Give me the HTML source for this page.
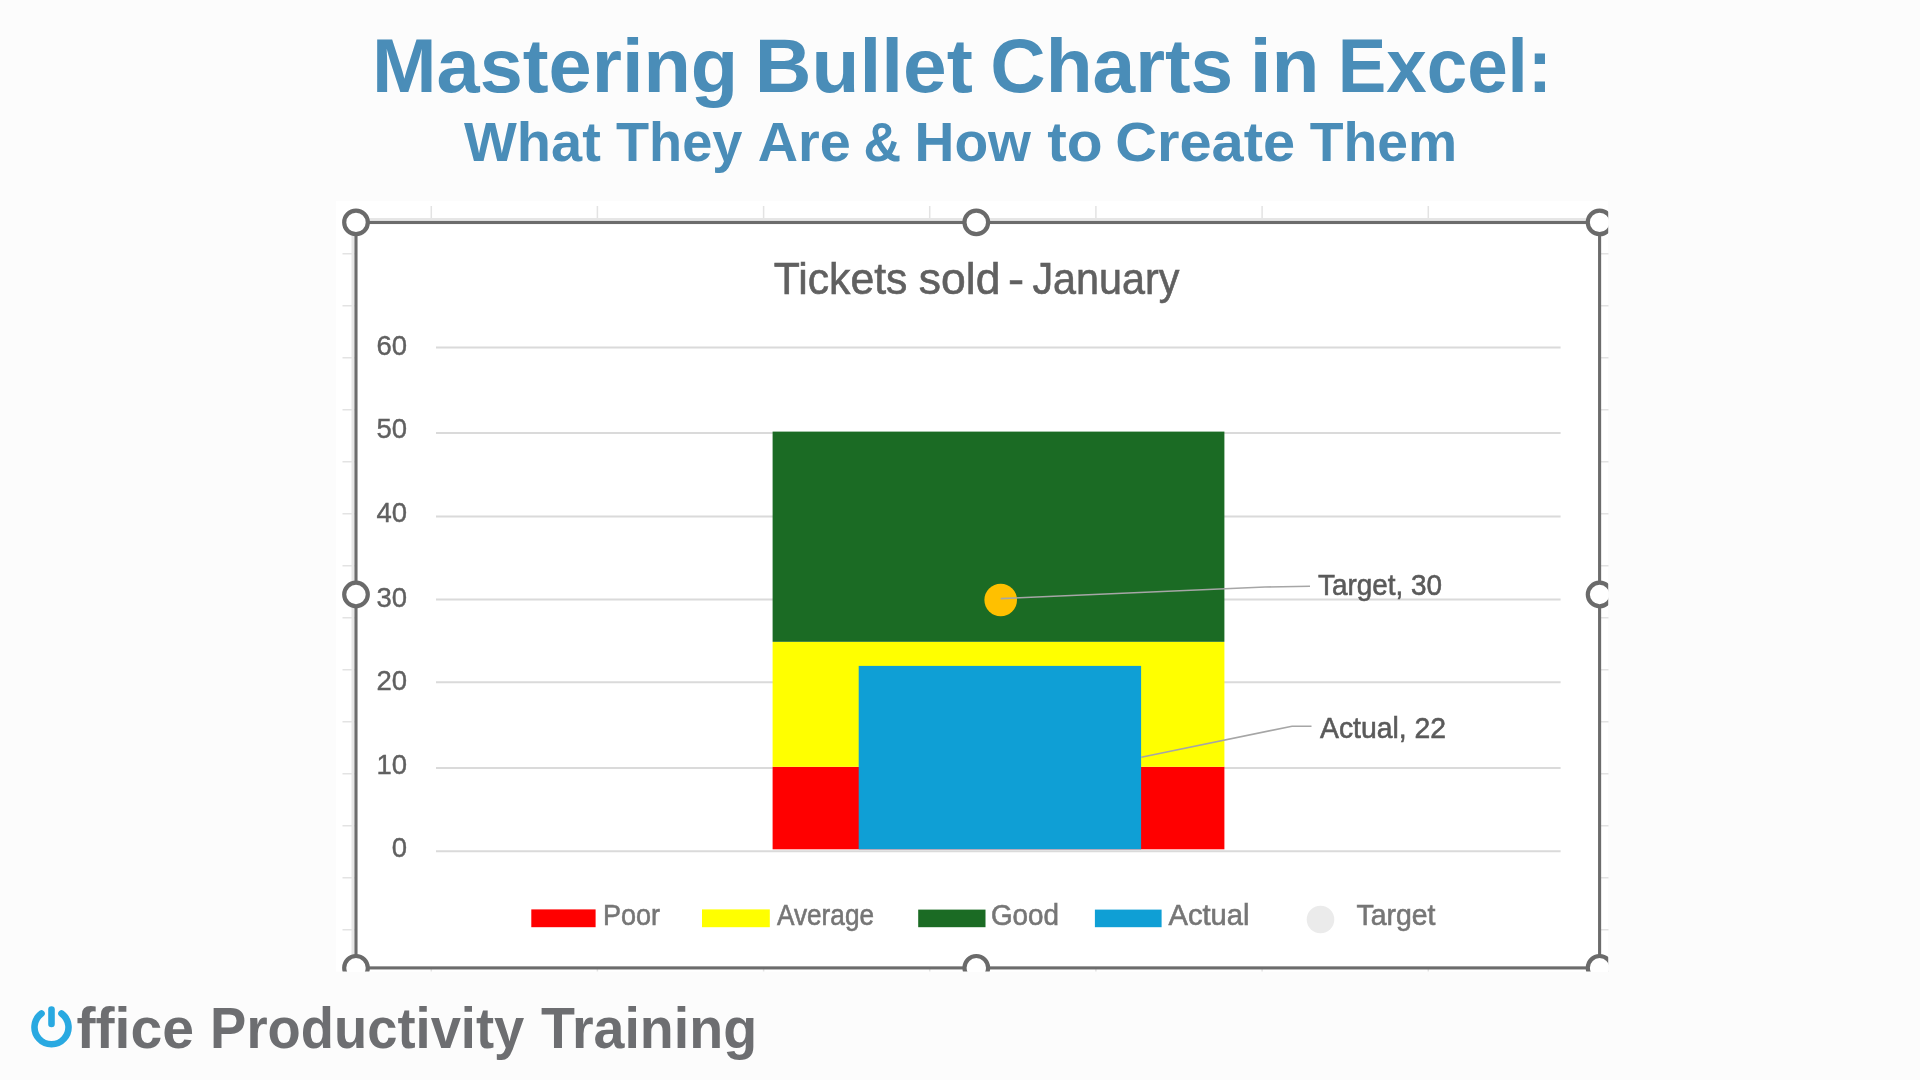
<!DOCTYPE html>
<html>
<head>
<meta charset="utf-8">
<title>Mastering Bullet Charts in Excel</title>
<style>
html,body{margin:0;padding:0;background:#fcfcfc;}
body{width:1920px;height:1080px;overflow:hidden;}
svg{display:block;filter:blur(0.45px);}
text{font-family:"Liberation Sans",Arial,sans-serif;}
</style>
</head>
<body>
<svg width="1920" height="1080" viewBox="0 0 1920 1080">
  <rect x="0" y="0" width="1920" height="1080" fill="#fcfcfc"/>

  <!-- Titles -->
  <g font-weight="bold" font-size="76.5" fill="#4a8db8">
    <text x="371.93" y="91.7" textLength="366.26" lengthAdjust="spacingAndGlyphs">Mastering</text>
    <text x="754.87" y="91.7" textLength="217.91" lengthAdjust="spacingAndGlyphs">Bullet</text>
    <text x="990.29" y="91.7" textLength="242.86" lengthAdjust="spacingAndGlyphs">Charts</text>
    <text x="1249.67" y="91.7" textLength="69.79" lengthAdjust="spacingAndGlyphs">in</text>
    <text x="1337.75" y="91.7" textLength="214.31" lengthAdjust="spacingAndGlyphs">Excel:</text>
  </g>
  <g font-weight="bold" font-size="56.4" fill="#4a8db8">
    <text x="464.0" y="160.8" textLength="136.78" lengthAdjust="spacingAndGlyphs">What</text>
    <text x="616.0" y="160.8" textLength="126.39" lengthAdjust="spacingAndGlyphs">They</text>
    <text x="757.81" y="160.8" textLength="93.04" lengthAdjust="spacingAndGlyphs">Are</text>
    <text x="863.45" y="160.8" textLength="37.64" lengthAdjust="spacingAndGlyphs">&amp;</text>
    <text x="914.56" y="160.8" textLength="116.5" lengthAdjust="spacingAndGlyphs">How</text>
    <text x="1047.3" y="160.8" textLength="55.4" lengthAdjust="spacingAndGlyphs">to</text>
    <text x="1115.25" y="160.8" textLength="179.84" lengthAdjust="spacingAndGlyphs">Create</text>
    <text x="1309.8" y="160.8" textLength="147.48" lengthAdjust="spacingAndGlyphs">Them</text>
  </g>

  <!-- Screenshot area -->
  <rect x="336" y="201" width="1272.2" height="770.5" fill="#ffffff"/>
  <g stroke="#e3e3e3" stroke-width="1.5">
    <line x1="342.5" y1="253.75" x2="1608.5" y2="253.75"/>
    <line x1="342.5" y1="305.75" x2="1608.5" y2="305.75"/>
    <line x1="342.5" y1="357.75" x2="1608.5" y2="357.75"/>
    <line x1="342.5" y1="409.75" x2="1608.5" y2="409.75"/>
    <line x1="342.5" y1="461.75" x2="1608.5" y2="461.75"/>
    <line x1="342.5" y1="513.75" x2="1608.5" y2="513.75"/>
    <line x1="342.5" y1="565.75" x2="1608.5" y2="565.75"/>
    <line x1="342.5" y1="617.75" x2="1608.5" y2="617.75"/>
    <line x1="342.5" y1="669.75" x2="1608.5" y2="669.75"/>
    <line x1="342.5" y1="721.75" x2="1608.5" y2="721.75"/>
    <line x1="342.5" y1="773.75" x2="1608.5" y2="773.75"/>
    <line x1="342.5" y1="825.75" x2="1608.5" y2="825.75"/>
    <line x1="342.5" y1="877.75" x2="1608.5" y2="877.75"/>
    <line x1="342.5" y1="929.75" x2="1608.5" y2="929.75"/>
    <line x1="431.3" y1="206" x2="431.3" y2="971.5"/>
    <line x1="597.4" y1="206" x2="597.4" y2="971.5"/>
    <line x1="763.6" y1="206" x2="763.6" y2="971.5"/>
    <line x1="929.7" y1="206" x2="929.7" y2="971.5"/>
    <line x1="1095.9" y1="206" x2="1095.9" y2="971.5"/>
    <line x1="1262.1" y1="206" x2="1262.1" y2="971.5"/>
    <line x1="1428.3" y1="206" x2="1428.3" y2="971.5"/>
  </g>

  <!-- Chart area -->
  <rect x="355.7" y="222.3" width="1243.7" height="745.5" fill="#ffffff"/>

  <!-- Chart title -->
  <g font-size="44" fill="#606060" stroke="#606060" stroke-width="0.6">
    <text x="773.7" y="293.6" textLength="133.67" lengthAdjust="spacingAndGlyphs">Tickets</text>
    <text x="918.89" y="293.6" textLength="81.61" lengthAdjust="spacingAndGlyphs">sold</text>
    <text x="1007.9" y="293.6" textLength="16.12" lengthAdjust="spacingAndGlyphs">-</text>
    <text x="1032.4" y="293.6" textLength="147.1" lengthAdjust="spacingAndGlyphs">January</text>
  </g>

  <!-- Gridlines -->
  <g stroke="#dadada" stroke-width="2">
    <line x1="436" y1="347.5" x2="1560.6" y2="347.5"/>
    <line x1="436" y1="433.05" x2="1560.6" y2="433.05"/>
    <line x1="436" y1="516.4" x2="1560.6" y2="516.4"/>
    <line x1="436" y1="599.4" x2="1560.6" y2="599.4"/>
    <line x1="436" y1="682.2" x2="1560.6" y2="682.2"/>
    <line x1="436" y1="768.0" x2="1560.6" y2="768.0"/>
    <line x1="436" y1="851.2" x2="1560.6" y2="851.2"/>
  </g>

  <!-- Y axis labels -->
  <g font-size="27.5" fill="#606060" stroke="#606060" stroke-width="0.4" text-anchor="end">
    <text x="407" y="355.2">60</text>
    <text x="407" y="438.4">50</text>
    <text x="407" y="521.7">40</text>
    <text x="407" y="607.3">30</text>
    <text x="407" y="690.3">20</text>
    <text x="407" y="773.7">10</text>
    <text x="407" y="856.5">0</text>
  </g>

  <!-- Bars -->
  <rect x="772.6" y="766.8" width="451.8" height="82.5" fill="#ff0000"/>
  <rect x="772.6" y="641.8" width="451.8" height="125" fill="#ffff00"/>
  <rect x="772.6" y="431.6" width="451.8" height="210.2" fill="#1b6b24"/>
  <rect x="858.7" y="665.9" width="282.4" height="183.4" fill="#0f9fd5"/>

  <!-- Target marker -->
  <circle cx="1000.7" cy="600" r="16.3" fill="#ffc000"/>

  <!-- Leader lines -->
  <polyline points="1000.7,598.6 1265,587 1310,586.3" fill="none" stroke="#a6a6a6" stroke-width="1.6"/>
  <polyline points="1141.2,757.2 1292,726.2 1311.5,726.2" fill="none" stroke="#a6a6a6" stroke-width="1.6"/>

  <!-- Data labels -->
  <text x="1318" y="595.1" font-size="30.3" fill="#5a5a5a" stroke="#5a5a5a" stroke-width="0.6" textLength="124" lengthAdjust="spacingAndGlyphs">Target, 30</text>
  <text x="1320" y="737.9" font-size="30.3" fill="#5a5a5a" stroke="#5a5a5a" stroke-width="0.6" textLength="126" lengthAdjust="spacingAndGlyphs">Actual, 22</text>

  <!-- Legend -->
  <rect x="531.3" y="909.4" width="64.3" height="17.8" fill="#ff0000"/>
  <rect x="702" y="909.4" width="67.8" height="17.8" fill="#ffff00"/>
  <rect x="918.2" y="909.6" width="67.3" height="17.6" fill="#1b6b24"/>
  <rect x="1094.9" y="909.6" width="66.7" height="17.6" fill="#0f9fd5"/>
  <circle cx="1320.5" cy="919.5" r="13.8" fill="#ebebeb"/>
  <g font-size="29.3" fill="#767676" stroke="#767676" stroke-width="0.6">
    <text x="603" y="924.8" textLength="57" lengthAdjust="spacingAndGlyphs">Poor</text>
    <text x="777" y="924.8" textLength="97" lengthAdjust="spacingAndGlyphs">Average</text>
    <text x="991" y="924.8" textLength="68" lengthAdjust="spacingAndGlyphs">Good</text>
    <text x="1168.5" y="924.8" textLength="81" lengthAdjust="spacingAndGlyphs">Actual</text>
    <text x="1356.5" y="924.8" textLength="79" lengthAdjust="spacingAndGlyphs">Target</text>
  </g>

  <!-- Chart border + handles -->
  <path d="M 353 967.8 L 353 219.5 L 1599.6 219.5" fill="none" stroke="#e6e6e6" stroke-width="3"/>
  <rect x="356" y="222.5" width="1243.6" height="745.4" fill="none" stroke="#6c6c6c" stroke-width="3.1"/>
  <g clip-path="url(#shotclip)">
    <g fill="#ffffff" stroke="#6a6a6a" stroke-width="4.2">
      <circle cx="356" cy="222.4" r="11.8"/>
      <circle cx="976.3" cy="222.4" r="11.8"/>
      <circle cx="1599.6" cy="222.4" r="11.8"/>
      <circle cx="356" cy="594.5" r="11.8"/>
      <circle cx="1599.6" cy="594.5" r="11.8"/>
      <circle cx="356" cy="967.8" r="11.8"/>
      <circle cx="976.3" cy="967.8" r="11.8"/>
      <circle cx="1599.6" cy="967.8" r="11.8"/>
    </g>
  </g>
  <defs>
    <clipPath id="shotclip"><rect x="336" y="201" width="1272.2" height="770.5"/></clipPath>
  </defs>

  <!-- Footer logo -->
  <g fill="none" stroke="#29a9e1" stroke-width="6.6" stroke-linecap="round">
    <title>Office Productivity Training</title>
    <path d="M 41.5 1013.5 A 17 17 0 1 0 61.5 1013.5"/>
    <line x1="51.5" y1="1009.5" x2="51.5" y2="1024"/>
  </g>
  <g font-weight="bold" font-size="56.7" fill="#6d6e71">
    <text x="76.4" y="1047.5" textLength="117.64" lengthAdjust="spacingAndGlyphs">ffice</text>
    <text x="210.12" y="1047.5" textLength="314.22" lengthAdjust="spacingAndGlyphs">Productivity</text>
    <text x="541.0" y="1047.5" textLength="216.16" lengthAdjust="spacingAndGlyphs">Training</text>
  </g>
</svg>
</body>
</html>
